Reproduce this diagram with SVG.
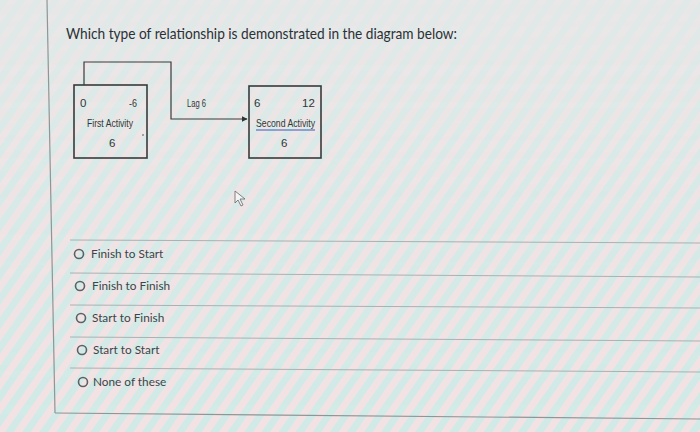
<svg xmlns="http://www.w3.org/2000/svg" width="700" height="432" viewBox="0 0 700 432">
<defs>
<pattern id="moire" width="14" height="14" patternUnits="userSpaceOnUse" patternTransform="rotate(35)">
<rect width="14" height="14" fill="#f3e1e3"/>
<rect width="7" height="14" fill="#cfeae6"/>
</pattern>
<linearGradient id="fade" x1="0" y1="0" x2="0" y2="1">
<stop offset="0" stop-color="#fff" stop-opacity="0.2"/>
<stop offset="0.45" stop-color="#fff" stop-opacity="0.65"/>
<stop offset="1" stop-color="#fff" stop-opacity="0.95"/>
</linearGradient>
<mask id="m"><rect width="700" height="432" fill="url(#fade)"/></mask>
<marker id="arr" viewBox="0 0 10 10" refX="9" refY="5" markerWidth="6" markerHeight="6" orient="auto" markerUnits="userSpaceOnUse">
<path d="M0,0 L10,5 L0,10 z" fill="#333"/>
</marker>
<style>
.box{fill:none;stroke:#3a3a3a;stroke-width:1.6}
.dt{font-family:"Liberation Sans",Arial,sans-serif;font-size:11.5px;fill:#353535}
.opt{font-family:Lato,"Liberation Sans",sans-serif;font-size:11.8px;fill:#3d4548}
.rad{fill:none;stroke:#5a6266;stroke-width:1.6}
.sep{stroke:#a9b2b3;stroke-width:1}
.con{fill:none;stroke:#3a3a3a;stroke-width:1.2}
</style>
</defs>
<rect width="700" height="432" fill="#e6e9e9"/>
<rect width="700" height="432" fill="url(#moire)" mask="url(#m)"/>
<g id="frame">
<line x1="47" y1="0" x2="55" y2="413" stroke="#8e9696" stroke-width="1.2"/>
<line x1="55" y1="413" x2="700" y2="419" stroke="#8e9696" stroke-width="1.2"/>
</g>
<text x="66" y="39" font-family="Lato,'Liberation Sans',sans-serif" font-size="15" fill="#2b3136" textLength="391" lengthAdjust="spacingAndGlyphs">Which type of relationship is demonstrated in the diagram below:</text>
<g id="connectors">
<polyline class="con" points="84,85 84,62 171,62 171,119 247,119" marker-end="url(#arr)"/>
<text class="dt" x="187" y="107" textLength="19" lengthAdjust="spacingAndGlyphs">Lag 6</text>
</g>
<g id="first-activity">
<rect class="box" x="74" y="85" width="73" height="73"/>
<text class="dt" x="80" y="107">0</text>
<text class="dt" x="129" y="107" textLength="8" lengthAdjust="spacingAndGlyphs">-6</text>
<text class="dt" x="87" y="127" textLength="46" lengthAdjust="spacingAndGlyphs">First Activity</text>
<text class="dt" x="109" y="147">6</text>
<circle cx="143" cy="135" r="0.8" fill="#444"/>
</g>
<g id="second-activity">
<rect class="box" x="249" y="86" width="72" height="72"/>
<text class="dt" x="254" y="107">6</text>
<text class="dt" x="302" y="107">12</text>
<text class="dt" x="256" y="127" textLength="59" lengthAdjust="spacingAndGlyphs">Second Activity</text>
<line x1="256" y1="130" x2="315" y2="130" stroke="#3b5bb8" stroke-width="1.2"/>
<text class="dt" x="281" y="147">6</text>
</g>
<g id="cursor">
<path d="M235,191 L235,203 L238,200 L241,206 L243,205 L240,199 L245,199 Z" fill="#f4f4f4" stroke="#666" stroke-width="0.8"/>
</g>
<g id="options">
<line class="sep" x1="70" y1="240" x2="700" y2="243"/>
<line class="sep" x1="70" y1="273" x2="700" y2="277"/>
<line class="sep" x1="70" y1="305" x2="700" y2="308"/>
<line class="sep" x1="70" y1="337" x2="700" y2="341"/>
<line class="sep" x1="70" y1="368" x2="700" y2="372"/>
<g id="opt1"><circle class="rad" cx="79" cy="254" r="4.5"/><text class="opt" x="91" y="258">Finish to Start</text></g>
<g id="opt2"><circle class="rad" cx="80" cy="286" r="4.5"/><text class="opt" x="92" y="290">Finish to Finish</text></g>
<g id="opt3"><circle class="rad" cx="81" cy="318" r="4.5"/><text class="opt" x="92" y="322">Start to Finish</text></g>
<g id="opt4"><circle class="rad" cx="82" cy="350" r="4.5"/><text class="opt" x="93" y="354">Start to Start</text></g>
<g id="opt5"><circle class="rad" cx="83" cy="382" r="4.5"/><text class="opt" x="93" y="386">None of these</text></g>
</g>
</svg>
